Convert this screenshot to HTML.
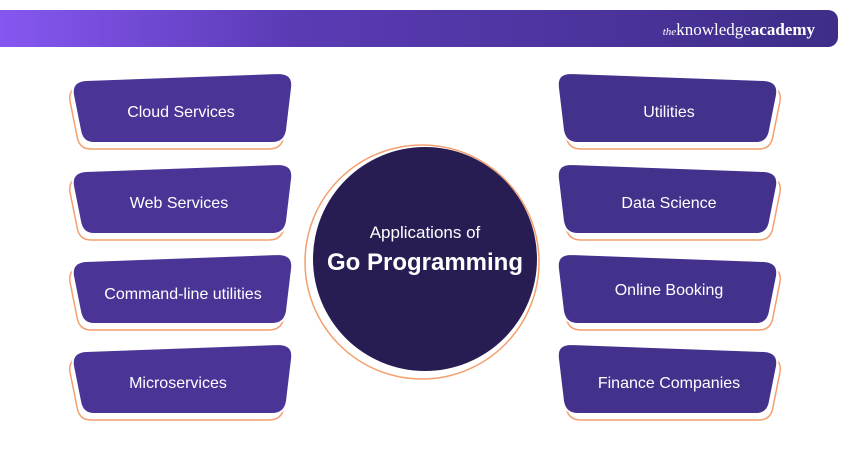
<!DOCTYPE html>
<html><head><meta charset="utf-8"><style>
html,body{margin:0;padding:0;background:#fff;width:850px;height:450px;overflow:hidden}
svg{display:block}
</style></head><body>
<svg width="850" height="450" viewBox="0 0 850 450" font-family="Liberation Sans,sans-serif">
<defs>
<linearGradient id="hg" x1="0" x2="1" y1="0" y2="0">
<stop offset="0" stop-color="#8657f0"/><stop offset="0.35" stop-color="#5a3bb5"/><stop offset="1" stop-color="#3f2d88"/>
</linearGradient>
<path id="pl" d="M86,80 L278,73 Q294,73 292,88 L287,130 Q285,143 272,143 L94,143 Q82,143 80,130 L73,95 Q71,81 86,80 Z"/>
<path id="pr" d="M571,73 L764,80 Q779,81 777,95 L770,130 Q768,143 756,143 L578,143 Q565,143 563,130 L558,88 Q556,73 571,73 Z"/>
<g id="L">
<use href="#pl" transform="translate(-3,6)" fill="#fff" stroke="#f4a06e" stroke-width="1.5"/>
<use href="#pl" fill="#4a3597" stroke="#fff" stroke-width="2"/>
</g>
<g id="R">
<use href="#pr" transform="translate(3,6)" fill="#fff" stroke="#f4a06e" stroke-width="1.5"/>
<use href="#pr" fill="#44318c" stroke="#fff" stroke-width="2"/>
</g>
</defs>
<path d="M0,10 H828 a10,10 0 0 1 10,10 V37 a10,10 0 0 1 -10,10 H0 Z" fill="url(#hg)"/>
<text x="815" y="35" text-anchor="end" fill="#fff" font-family="Liberation Serif,serif" font-size="17"><tspan font-style="italic" font-size="11">the</tspan>knowledge<tspan font-weight="bold">academy</tspan></text>

<use href="#L"/><use href="#L" y="91"/><use href="#L" y="181"/><use href="#L" y="271"/>
<use href="#R"/><use href="#R" y="91"/><use href="#R" y="181"/><use href="#R" y="271"/>

<g fill="#fff" font-size="16" text-anchor="middle">
<text x="181" y="117">Cloud Services</text>
<text x="179" y="208">Web Services</text>
<text x="183" y="299">Command-line utilities</text>
<text x="178" y="388">Microservices</text>
<text x="669" y="117">Utilities</text>
<text x="669" y="208">Data Science</text>
<text x="669" y="295">Online Booking</text>
<text x="669" y="388">Finance Companies</text>
</g>

<circle cx="422" cy="262" r="117" fill="none" stroke="#f4a06e" stroke-width="1.5"/>
<circle cx="425" cy="259" r="112" fill="#271d52"/>
<text x="425" y="238" text-anchor="middle" fill="#fff" font-size="17">Applications of</text>
<text x="425" y="270" text-anchor="middle" fill="#fff" font-size="24" font-weight="bold">Go Programming</text>
</svg>
</body></html>
